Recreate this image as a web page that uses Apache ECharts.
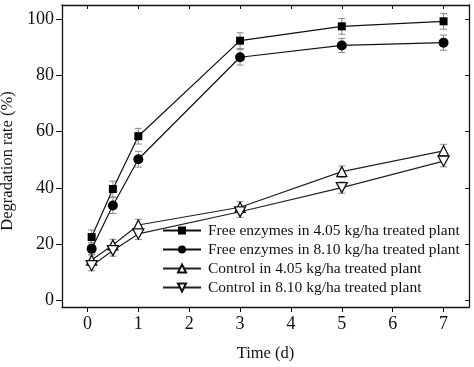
<!DOCTYPE html>
<html><head><meta charset="utf-8">
<script src="https://cdn.jsdelivr.net/npm/echarts@6/dist/echarts.min.js"></script>
<style>html,body{margin:0;padding:0;background:#fff}#c{width:474px;height:367px}</style>
</head><body><div id="c"></div>
<script>
const days = [0.083, 0.5, 1, 3, 5, 7];
const xTicks = [0, 1, 2, 3, 4, 5, 6, 7];
const yTicks = [0, 20, 40, 60, 80, 100];
const seriesNames = [
  'Free enzymes in 4.05 kg/ha treated plant',
  'Free enzymes in 8.10 kg/ha treated plant',
  'Control in 4.05 kg/ha treated plant',
  'Control in 8.10 kg/ha treated plant'
];
const free405 = [22.5, 39.6, 58.4, 92.4, 97.5, 99.3];
const free810 = [18.3, 33.7, 50.2, 86.5, 90.7, 91.7];
const ctrl405 = [14.3, 19.7, 26.8, 33.1, 45.8, 53.2];
const ctrl810 = [12.3, 17.7, 23.6, 31.5, 40.1, 49.5];
const err405 = [2.5, 2.8, 2.8, 2.8, 2.8, 2.8];
const err810 = [2.2, 2.8, 2.8, 2.8, 2.5, 2.7];
const errC405 = [2.0, 2.0, 2.0, 2.0, 2.0, 2.3];
const errC810 = [1.8, 2.0, 2.0, 2.0, 2.0, 2.0];

const FONT = 'Liberation Serif';
const chart = echarts.init(document.getElementById('c'));

function pts(vals){ return days.map((d,i)=>[d, vals[i]]); }
function errData(vals, errs){ return days.map((d,i)=>[d, vals[i]-errs[i], vals[i]+errs[i]]); }
function errSeries(vals, errs){
  return {
    type: 'custom', xAxisIndex: 0, yAxisIndex: 0, z: 1, silent: true,
    data: errData(vals, errs),
    renderItem: function(params, api){
      const lo = api.coord([api.value(0), api.value(1)]);
      const hi = api.coord([api.value(0), api.value(2)]);
      const w = 3.5;
      const st = {stroke: '#8a8a8a', lineWidth: 1};
      return {type: 'group', children: [
        {type:'line', shape:{x1:lo[0], y1:lo[1], x2:hi[0], y2:hi[1]}, style:st},
        {type:'line', shape:{x1:lo[0]-w, y1:lo[1], x2:lo[0]+w, y2:lo[1]}, style:st},
        {type:'line', shape:{x1:hi[0]-w, y1:hi[1], x2:hi[0]+w, y2:hi[1]}, style:st}
      ]};
    }
  };
}
const downTri = 'path://M0,0 L10,0 L5,9 Z';
function lineSeries(name, vals, symbol, size, hollow){
  return {
    name: name, type: 'line', xAxisIndex: 0, yAxisIndex: 0, z: 3,
    data: pts(vals), symbol: symbol, symbolSize: size, showAllSymbol: true,
    lineStyle: {color: hollow ? '#222' : '#111', width: 1.2},
    itemStyle: hollow ? {color: '#fff', borderColor: '#111', borderWidth: 1.3} : {color: '#000', borderWidth: 0},
    emphasis: {disabled: true}
  };
}

const tickTxt = {fontFamily: FONT, fontSize: 18, color: '#111'};
const nameTxt = {fontFamily: FONT, fontSize: 16.5, color: '#111'};
chart.setOption({
  animation: false,
  grid: {left: 62, right: 5, top: 5, bottom: 60, containLabel: false, outerBoundsMode: 'none'},
  legend: {
    orient: 'vertical', left: 162, top: 221, padding: 0,
    itemWidth: 38, itemHeight: 10, itemGap: 0,
    textStyle: {fontFamily: FONT, fontSize: 15.5, color: '#111', lineHeight: 19, padding: [0,0,0,2]},
    data: seriesNames
  },
  xAxis: [{
    type: 'value', min: -0.5, max: 7.5,
    name: 'Time (d)', nameLocation: 'middle', nameGap: 38,
    nameTextStyle: nameTxt,
    axisLine: {onZero: false, lineStyle: {color: '#111', width: 1.3}},
    axisTick: {show: true, inside: false, length: 5, lineStyle: {color: '#111'}, customValues: xTicks},
    axisLabel: {...tickTxt, margin: 8, customValues: xTicks},
    splitLine: {show: false}
  },{
    type: 'value', min: -0.5, max: 7.5, position: 'top',
    axisLine: {onZero: false, lineStyle: {color: '#111', width: 1.3}},
    axisTick: {show: true, inside: true, length: 4, lineStyle: {color: '#111'}, customValues: xTicks},
    axisLabel: {show: false}, splitLine: {show: false}
  }],
  yAxis: [{
    type: 'value', min: -2.4, max: 105.1,
    name: 'Degradation rate (%)', nameLocation: 'middle', nameGap: 42,
    nameTextStyle: {...nameTxt, padding: [0, 10, 0, 0]},
    axisLine: {show: true, onZero: false, lineStyle: {color: '#111', width: 1.3}},
    axisTick: {show: true, inside: false, length: 6, lineStyle: {color: '#111'}, customValues: yTicks},
    axisLabel: {...tickTxt, margin: 8, customValues: yTicks},
    splitLine: {show: false}
  },{
    type: 'value', min: -2.4, max: 105.1, position: 'right',
    axisLine: {show: true, onZero: false, lineStyle: {color: '#111', width: 1.3}},
    axisTick: {show: true, inside: true, length: 4, lineStyle: {color: '#111'}, customValues: yTicks},
    axisLabel: {show: false}, splitLine: {show: false}
  }],
  series: [
    errSeries(free405, err405), errSeries(free810, err810),
    errSeries(ctrl405, errC405), errSeries(ctrl810, errC810),
    lineSeries(seriesNames[0], free405, 'rect', 8, false),
    lineSeries(seriesNames[1], free810, 'circle', 10, false),
    lineSeries(seriesNames[2], ctrl405, 'triangle', 10, true),
    lineSeries(seriesNames[3], ctrl810, downTri, [11, 10], true)
  ]
});
</script></body></html>
